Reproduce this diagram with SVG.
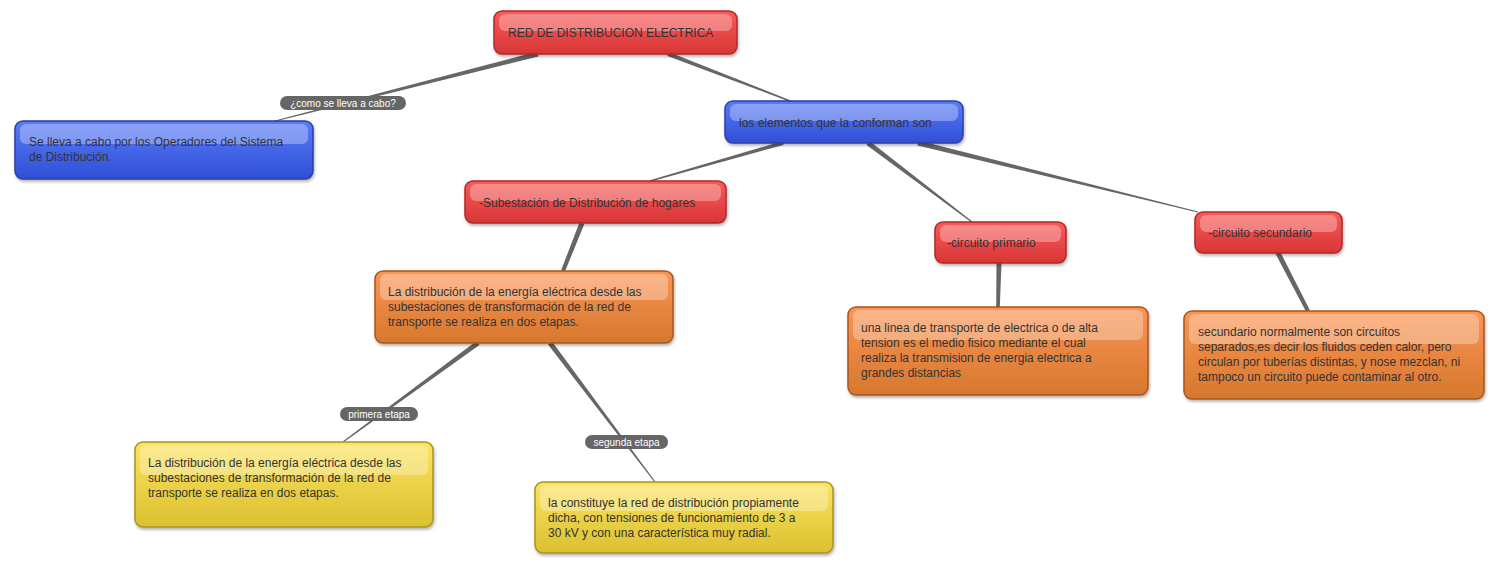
<svg xmlns="http://www.w3.org/2000/svg" width="1494" height="564" viewBox="0 0 1494 564">
<defs>
<linearGradient id="gr" x1="0" y1="0" x2="0" y2="1"><stop offset="0" stop-color="#fa5a5a"/><stop offset="1" stop-color="#d83636"/></linearGradient>
<linearGradient id="gb" x1="0" y1="0" x2="0" y2="1"><stop offset="0" stop-color="#5a7cf8"/><stop offset="1" stop-color="#2f4fd6"/></linearGradient>
<linearGradient id="go" x1="0" y1="0" x2="0" y2="1"><stop offset="0" stop-color="#fa9555"/><stop offset="1" stop-color="#d6782e"/></linearGradient>
<linearGradient id="gy" x1="0" y1="0" x2="0" y2="1"><stop offset="0" stop-color="#fbe460"/><stop offset="1" stop-color="#dcc030"/></linearGradient>
<filter id="sh" x="-10%" y="-20%" width="120%" height="150%"><feDropShadow dx="1" dy="2" stdDeviation="1.5" flood-color="#000" flood-opacity="0.3"/></filter>
</defs>
<style>
.n{filter:url(#sh);stroke-width:1.5}
.r{fill:url(#gr);stroke:#b02a2a}
.b{fill:url(#gb);stroke:#2a3fa8}
.o{fill:url(#go);stroke:#a8561c}
.y{fill:url(#gy);stroke:#a89420}
.hl{fill:#fff;opacity:0.3}
text{font-family:"Liberation Sans",Arial,sans-serif;font-size:12px;fill:#333}
.c polygon{fill:#666}
.pill{fill:#666}
.lt{fill:#fff;font-size:10px}
</style>
<g class="c" id="connectors">
<polygon points="537.4,51.6 538.6,56.4 275.1,121.5 274.9,120.5"/>
<polygon points="667.3,55.9 668.7,52.1 790.3,100.25 789.7,101.75"/>
<polygon points="782.45,141.08 783.55,144.92 650.19,181.67 649.81,180.33"/>
<polygon points="866.5,145 869.5,141 972.36,221.52 971.64,222.48"/>
<polygon points="917.4,145.43 918.6,140.57 1198.14,211.42 1197.86,212.58"/>
<polygon points="579.67,222.08 584.33,223.92 564.86,271.74 561.14,270.26"/>
<polygon points="996.5,263 1001.5,263 999.8,307 996.2,307"/>
<polygon points="1275.78,254.15 1280.22,251.85 1309.78,310.08 1306.22,311.92"/>
<polygon points="476.52,340.98 479.48,345.02 343.35,442.48 342.65,441.52"/>
<polygon points="548,344.51 552,341.49 655.48,481.64 654.52,482.36"/>
<rect class="pill" x="280" y="96" width="126" height="14" rx="7"/><text class="lt" x="343" y="106.5" text-anchor="middle">¿como se lleva a cabo?</text>
<rect class="pill" x="340" y="407" width="78" height="14" rx="7"/><text class="lt" x="379" y="417.5" text-anchor="middle">primera etapa</text>
<rect class="pill" x="585" y="435" width="83" height="14" rx="7"/><text class="lt" x="626.5" y="445.5" text-anchor="middle">segunda etapa</text>
</g>
<g id="root"><rect class="n r" x="494" y="11" width="243" height="43" rx="8"/><rect class="hl" x="499" y="14" width="233" height="17" rx="6"/><text x="508" y="37">RED DE DISTRIBUCION ELECTRICA</text></g>
<g id="elementos"><rect class="n b" x="725" y="101" width="238" height="42" rx="8"/><rect class="hl" x="730" y="104" width="228" height="17" rx="6"/><text x="739" y="127">los elementos que la conforman son</text></g>
<g id="operadores"><rect class="n b" x="15" y="121" width="298" height="58" rx="8"/><rect class="hl" x="20" y="124" width="288" height="20" rx="6"/><text x="29" y="146">Se lleva a cabo por los Operadores del Sistema</text><text x="29" y="161">de Distribución.</text></g>
<g id="subestacion"><rect class="n r" x="465" y="181" width="261" height="42" rx="8"/><rect class="hl" x="470" y="184" width="251" height="17" rx="6"/><text x="479" y="207">-Subestación de Distribución de hogares</text></g>
<g id="primario"><rect class="n r" x="935" y="222" width="131" height="41" rx="8"/><rect class="hl" x="940" y="225" width="121" height="17" rx="6"/><text x="947" y="247">-circuito primario</text></g>
<g id="secundario"><rect class="n r" x="1195" y="212" width="147" height="41" rx="8"/><rect class="hl" x="1200" y="215" width="137" height="17" rx="6"/><text x="1208" y="237">-circuito secundario</text></g>
<g id="etapas"><rect class="n o" x="375" y="271" width="298" height="72" rx="8"/><rect class="hl" x="380" y="274" width="288" height="26" rx="6"/><text x="388" y="296">La distribución de la energía eléctrica desde las</text><text x="388" y="311">subestaciones de transformación de la red de</text><text x="388" y="326">transporte se realiza en dos etapas.</text></g>
<g id="linea"><rect class="n o" x="848" y="307" width="300" height="88" rx="8"/><rect class="hl" x="853" y="310" width="290" height="30" rx="6"/><text x="861" y="332">una linea de transporte de electrica o de alta</text><text x="861" y="347">tension es el medio fisico mediante el cual</text><text x="861" y="362">realiza la transmision de energia electrica a</text><text x="861" y="377">grandes distancias</text></g>
<g id="separados"><rect class="n o" x="1184" y="311" width="300" height="88" rx="8"/><rect class="hl" x="1189" y="314" width="290" height="30" rx="6"/><text x="1198" y="336">secundario normalmente son circuitos</text><text x="1198" y="351">separados,es decir los fluidos ceden calor, pero</text><text x="1198" y="366">circulan por tuberías distintas, y nose mezclan, ni</text><text x="1198" y="381">tampoco un circuito puede contaminar al otro.</text></g>
<g id="primera"><rect class="n y" x="135" y="442" width="298" height="85" rx="8"/><rect class="hl" x="140" y="445" width="288" height="30" rx="6"/><text x="148" y="467">La distribución de la energía eléctrica desde las</text><text x="148" y="482">subestaciones de transformación de la red de</text><text x="148" y="497">transporte se realiza en dos etapas.</text></g>
<g id="segunda"><rect class="n y" x="535" y="482" width="298" height="71" rx="8"/><rect class="hl" x="540" y="485" width="288" height="26" rx="6"/><text x="548" y="507">la constituye la red de distribución propiamente</text><text x="548" y="522">dicha, con tensiones de funcionamiento de 3 a</text><text x="548" y="537">30 kV y con una característica muy radial.</text></g>
</svg>
